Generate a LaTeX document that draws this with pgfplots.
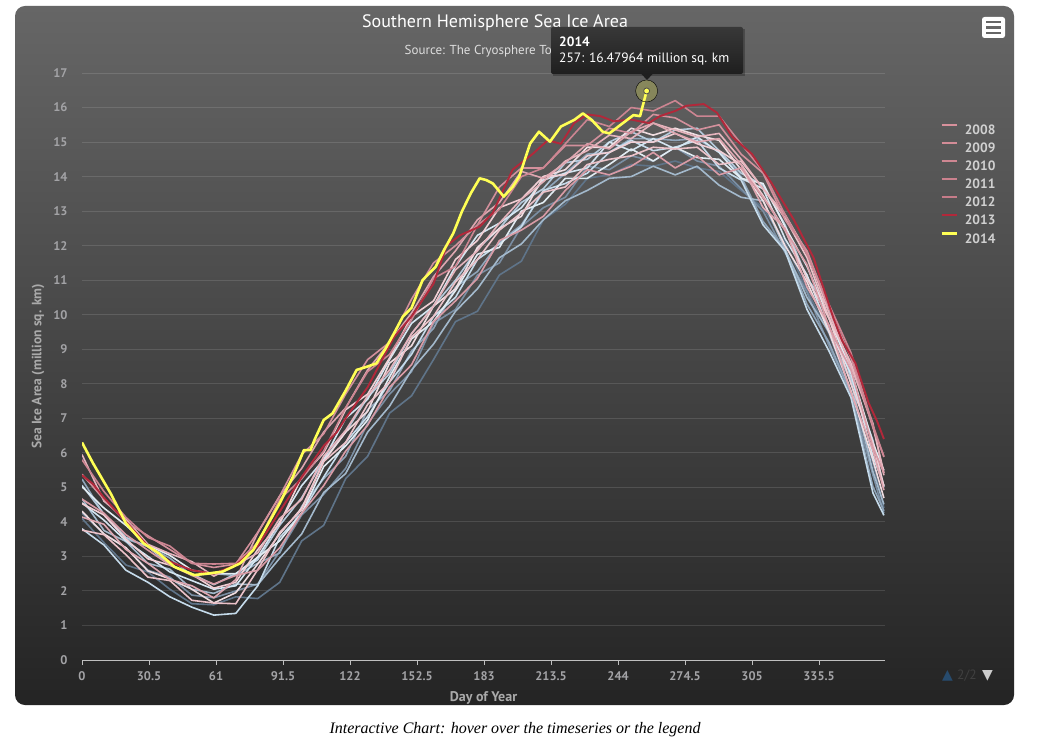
\documentclass[border=0pt]{standalone}
\usepackage{pgfplots}
\pgfplotsset{compat=1.18}
\usepackage{pgfplotstable}
\usepackage{fontspec}
\setmainfont{PT Sans}
\newfontfamily\capfont{Liberation Serif}
\newfontfamily\symfont{DejaVu Sans}
\definecolor{bgtop}{HTML}{666666}
\definecolor{bgbot}{HTML}{242424}
\definecolor{labc}{HTML}{A3A3A6}
\definecolor{titc}{HTML}{AAAAAA}
\definecolor{legc}{HTML}{D0D0D0}
\definecolor{axc}{HTML}{C0C0C0}
\definecolor{navc}{HTML}{274B6D}
\definecolor{c1}{HTML}{7A8EA3}
\definecolor{c2}{HTML}{5F7489}
\definecolor{c3}{HTML}{8FA5BA}
\definecolor{c4}{HTML}{A3B9CC}
\definecolor{c5}{HTML}{B4CADC}
\definecolor{c6}{HTML}{C5DBEB}
\definecolor{c7}{HTML}{D4E6F2}
\definecolor{c8}{HTML}{E2ECF3}
\definecolor{c9}{HTML}{F0DDE1}
\definecolor{c10}{HTML}{F1CFD5}
\definecolor{c11}{HTML}{ECC2C9}
\definecolor{c12}{HTML}{E6B4BD}
\definecolor{c13}{HTML}{DFA7B1}
\definecolor{c14}{HTML}{D99BA6}
\definecolor{c15}{HTML}{D3909C}
\definecolor{c16}{HTML}{CD8592}
\definecolor{y08}{HTML}{D8919C}
\definecolor{y09}{HTML}{D38C97}
\definecolor{y10}{HTML}{CF8792}
\definecolor{y11}{HTML}{CB828E}
\definecolor{y12}{HTML}{C67C89}
\definecolor{y13}{HTML}{B2283A}
\definecolor{y14}{HTML}{FFFF55}

\pgfplotstableread{
d   s1    s2    s3    s4    s5    s6    s7    s8    s9    s10   s11   s12   s13   s14   s15   s16
0   4.26  4.10  5.24  4.67  5.06  3.80  4.55  5.02  4.31  4.53  3.76  5.95  4.14  4.66  5.38  5.80
10  3.65  3.40  4.20  3.75  4.23  3.33  4.05  4.40  3.65  4.20  3.63  4.60  3.93  4.25  4.65  4.88
20  3.25  2.75  3.50  3.43  3.55  2.60  3.45  3.90  3.25  3.50  3.05  4.08  3.20  3.63  4.00  4.13
30  2.60  2.55  3.30  2.80  3.28  2.25  3.00  3.33  2.58  2.93  2.40  3.35  2.80  3.18  3.60  3.55
40  2.40  2.05  2.95  2.63  2.75  1.83  2.55  3.03  2.35  2.75  2.30  3.08  2.33  2.75  3.20  3.30
50  1.88  1.63  2.45  2.05  2.50  1.53  2.30  2.60  2.05  2.48  1.73  2.85  2.15  2.45  2.80  2.80
60  1.80  1.60  2.50  1.93  2.18  1.30  2.05  2.50  1.65  2.08  1.65  2.43  1.80  2.20  2.68  2.78
70  2.00  1.83  2.45  2.20  2.50  1.35  2.15  2.50  1.95  2.25  1.63  2.75  2.33  2.45  2.78  2.80
80  2.20  1.78  2.80  2.18  2.90  2.15  2.98  2.98  2.78  3.20  2.62  3.10  3.68  2.60  3.70  3.40
90  3.15  2.25  3.10  2.95  3.90  3.55  4.00  3.45  3.65  3.95  3.70  4.10  4.75  3.25  4.75  4.65
100 4.20  3.45  4.45  3.65  4.70  4.25  5.05  4.25  4.40  5.30  4.35  4.65  5.55  4.25  5.95  5.25
110 4.80  3.90  5.25  4.85  5.80  5.30  5.80  5.60  5.75  6.00  5.75  5.90  6.60  5.05  6.55  6.05
120 5.55  5.25  5.90  5.40  6.60  6.30  7.00  6.20  6.60  7.25  6.30  6.65  7.30  6.05  7.70  7.30
130 6.85  5.90  7.25  6.60  7.60  7.05  7.55  6.95  7.20  7.70  7.40  7.65  8.40  6.80  8.70  8.35
140 7.70  7.15  7.80  7.35  8.30  8.05  8.70  8.20  8.60  8.75  8.05  8.40  9.20  7.90  9.20  8.85
150 8.35  7.65  8.95  8.40  9.45  8.85  9.75  9.30  9.10  9.95  9.35  9.45  10.05 8.55  10.45 9.85
160 9.75  8.70  9.60  9.15  10.25 9.95  10.25 9.80  10.25 10.40 9.95  10.25 11.10 9.80  11.50 11.05
170 10.15 9.80  10.80 10.10 11.00 10.50 11.40 10.70 10.75 11.60 10.95 11.30 11.85 10.40 12.00 11.40
180 11.15 10.10 11.25 10.75 11.90 11.60 12.30 11.75 11.95 12.15 11.60 11.85 12.75 11.05 12.60 12.60
190 11.50 11.15 12.10 11.65 12.50 12.05 12.65 11.95 12.50 13.10 12.45 12.65 13.25 12.15 13.70 13.05
200 12.55 11.55 12.60 12.05 13.25 12.55 13.10 13.00 12.85 13.35 12.95 13.35 14.15 12.45 14.25 14.00
210 13.10 12.75 13.55 12.75 13.65 13.60 13.90 13.25 14.00 14.00 13.55 13.85 13.95 12.85 14.25 14.25
220 13.40 13.20 14.10 13.30 14.40 13.80 14.10 13.95 14.20 14.05 13.70 14.45 14.40 13.60 14.90 14.95
230 14.30 13.95 14.65 13.60 14.50 14.10 14.25 13.95 14.85 14.60 14.35 14.75 14.95 14.20 14.90 15.65
240 14.20 14.05 14.70 13.95 15.00 14.70 15.00 14.35 14.85 14.70 14.50 15.20 14.80 14.05 15.40 15.45
250 14.60 14.35 15.10 14.00 15.30 15.05 14.75 14.80 15.40 15.00 14.60 15.10 15.30 14.30 15.25 16.00
260 14.45 14.30 15.10 14.30 15.00 14.75 15.10 14.45 15.20 15.00 14.85 15.55 15.55 14.70 15.80 15.90
270 14.85 14.45 15.05 14.05 15.35 14.85 14.80 14.85 15.40 15.25 14.80 15.35 15.25 14.25 15.70 16.20
280 14.45 14.25 15.10 14.30 15.40 15.05 15.15 14.55 15.20 14.95 14.85 15.15 15.00 14.60 15.35 15.75
290 14.30 14.15 14.70 13.75 14.75 14.25 14.70 14.50 15.05 14.75 14.35 15.25 15.10 14.05 15.50 15.75
300 13.65 13.60 14.00 13.40 14.10 13.90 13.95 13.95 14.20 14.35 14.45 14.50 14.35 14.25 14.65 14.95
310 13.00 13.10 12.70 13.30 13.75 12.60 13.65 13.80 13.30 13.45 13.65 13.65 13.10 13.40 14.10 14.15
320 11.80 12.10 11.90 11.90 12.60 11.85 12.20 12.55 12.00 12.45 12.80 12.90 12.50 12.45 12.75 12.90
330 10.65 10.70 10.30 10.50 11.05 10.15 11.15 11.40 10.95 11.05 11.65 11.80 10.80 11.45 11.85 11.75
340 9.10  9.45  9.20  9.50  10.20 8.95  9.55  9.90  9.50  9.90  9.90  10.05 9.70  9.65  10.20 10.30
350 7.70  7.70  7.70  8.05  8.15  7.60  8.30  8.40  7.80  8.00  8.60  8.50  7.75  8.40  8.75  8.90
360 5.35  5.70  5.02  5.46  6.36  4.84  5.90  6.29  5.79  6.28  6.77  6.85  6.07  6.16  6.73  6.80
365 4.25  4.40  4.32  4.51  5.01  4.19  5.05  5.49  4.69  5.03  5.42  5.35  4.92  5.41  5.88  5.90
}\bgtab

\pgfplotstableread{
d v
0 5.35
5 5.10
10 4.70
20 4.00
30 3.30
40 2.85
50 2.60
60 2.50
70 2.75
80 3.30
90 4.30
100 5.30
110 6.20
116 6.60
120 7.00
130 7.90
142 9.35
150 9.95
160 10.90
166 12.00
172 12.30
181 12.55
187 12.95
196 14.20
205 14.65
212 15.05
218 14.95
224 15.55
230 15.80
236 15.75
242 15.60
250 15.65
258 15.55
263 15.75
270 15.90
275 16.05
283 16.10
289 15.85
296 15.15
305 14.65
314 13.80
324 12.75
333 11.65
342 9.90
346 9.25
352 8.60
358 7.45
362 6.90
365 6.40
}\tabA

\pgfplotstableread{
d v
0 6.30
5 5.70
13 4.83
20 3.96
28 3.38
35 3.09
42 2.70
51 2.46
58 2.51
64 2.56
72 2.80
78 3.19
84 3.86
90 4.54
96 5.31
101 6.08
104 6.08
106 6.40
110 6.95
114 7.14
120 7.80
125 8.40
130 8.50
134 8.59
138 9.00
142 9.46
146 9.94
150 10.20
155 11.00
161 11.39
165 11.90
169 12.36
173 13.00
177 13.52
181 13.95
184 13.90
187 13.80
192 13.42
196 13.70
199 14.00
204 14.96
208 15.30
213 15.01
218 15.45
224 15.64
228 15.83
232 15.64
237 15.30
240 15.25
246 15.54
251 15.78
254 15.75
257 16.48
}\tabB

\begin{document}
\begin{tikzpicture}[x=1pt,y=1pt]
\fill[white] (0,0) rectangle (1048,748);
\shade[top color=bgtop, bottom color=bgbot, rounded corners=10pt] (15,43) rectangle (1014,742);
\begin{axis}[
  at={(82pt,88pt)}, anchor=south west, scale only axis,
  width=803pt, height=587pt,
  xmin=0, xmax=365.5, ymin=0, ymax=17,
  axis line style={draw=none},
  xtick={0,30.5,61,91.5,122,152.5,183,213.5,244,274.5,305,335.5},
  xticklabels={0,30.5,61,91.5,122,152.5,183,213.5,244,274.5,305,335.5},
  ytick={0,1,...,17},
  xtick pos=left, ytick pos=left,
  tick align=outside, major tick length=5pt,
  xtick style={draw=axc, line width=1pt},
  ytick style={draw=none},
  ymajorgrids,
  major grid style={draw=white, draw opacity=0.12, line width=1pt},
  /pgf/number format/assume math mode=true,
  xticklabel style={font=\bfseries\fontsize{12.5}{14}\selectfont, text=labc, yshift=-3pt},
  yticklabel style={font=\bfseries\fontsize{12.5}{14}\selectfont, text=labc, xshift=-6pt},
  xlabel={Day of Year},
  ylabel={Sea Ice Area (million sq. km)},
  xlabel style={font=\bfseries\fontsize{14}{16}\selectfont, text=titc, at={(axis description cs:0.5,-0.0647)}, anchor=center},
  ylabel style={font=\bfseries\fontsize{13.5}{16}\selectfont, text=titc, at={(axis description cs:-0.0548,0.5)}, anchor=center},
  legend style={at={(axis description cs:1,1)}, anchor=north west, xshift=55pt, yshift=-51pt,
    draw=none, fill=none, inner sep=0pt, row sep=7.8pt, column sep=7pt,
    font=\bfseries\fontsize{13.5}{15}\selectfont, text=legc,
    nodes={inner sep=0pt, text height=9.5pt, text depth=0pt}},
  legend cell align=left,
  legend image code/.code={\draw[#1] (0pt,4.5pt) -- (15pt,4.5pt);},
  every axis plot/.append style={line join=round},
  clip mode=individual,
]
\draw[axc, line width=1pt] (axis cs:0,0) -- (axis cs:365.5,0);
\addplot[forget plot, c2, line width=1.6pt] table[x=d,y=s2]{\bgtab};
\addplot[forget plot, c1, line width=1.6pt] table[x=d,y=s1]{\bgtab};
\addplot[forget plot, c3, line width=1.6pt] table[x=d,y=s3]{\bgtab};
\addplot[forget plot, c4, line width=1.6pt] table[x=d,y=s4]{\bgtab};
\addplot[forget plot, c5, line width=1.6pt] table[x=d,y=s5]{\bgtab};
\addplot[forget plot, c6, line width=1.6pt] table[x=d,y=s6]{\bgtab};
\addplot[forget plot, c7, line width=1.6pt] table[x=d,y=s7]{\bgtab};
\addplot[forget plot, c8, line width=1.6pt] table[x=d,y=s8]{\bgtab};
\addplot[forget plot, c9, line width=1.6pt] table[x=d,y=s9]{\bgtab};
\addplot[forget plot, c10, line width=1.6pt] table[x=d,y=s10]{\bgtab};
\addplot[forget plot, c11, line width=1.6pt] table[x=d,y=s11]{\bgtab};
\addplot[forget plot, c12, line width=1.6pt] table[x=d,y=s12]{\bgtab};
\addplot[forget plot, c13, line width=1.6pt] table[x=d,y=s13]{\bgtab};
\addplot[forget plot, c14, line width=1.6pt] table[x=d,y=s14]{\bgtab};
\addplot[forget plot, c15, line width=1.6pt] table[x=d,y=s15]{\bgtab};
\addplot[forget plot, c16, line width=1.6pt] table[x=d,y=s16]{\bgtab};
\addlegendimage{y08, line width=2pt}\addlegendentry{2008}
\addlegendimage{y09, line width=2pt}\addlegendentry{2009}
\addlegendimage{y10, line width=2pt}\addlegendentry{2010}
\addlegendimage{y11, line width=2pt}\addlegendentry{2011}
\addlegendimage{y12, line width=2pt}\addlegendentry{2012}
\addplot[y13, line width=1.9pt] table[x=d,y=v]{\tabA};
\addlegendentry{2013}
\addplot[y14, line width=2.6pt] table[x=d,y=v]{\tabB};
\addlegendentry{2014}
\addplot[forget plot, only marks, mark=*, mark size=11pt, mark options={fill=y14, draw=none, fill opacity=0.25}] coordinates {(257,16.48)};
\addplot[forget plot, only marks, mark=*, mark size=3pt, mark options={fill=y14, draw=black!70, line width=0.8pt}] coordinates {(257,16.48)};
\end{axis}
% title and subtitle
\node[text=white, font=\fontsize{18}{21}\selectfont] at (495,725) {Southern Hemisphere Sea Ice Area};
\node[text=white!87!black, font=\fontsize{13}{15}\selectfont] at (488,697) {Source: The Cryosphere Today};
% tooltip
\fill[black, opacity=0.25] (553,672) rectangle (745,719);
\shade[top color=black!78, bottom color=black!88, rounded corners=2pt] (551,674) rectangle (743,721);
\fill[black!88] (641,674.5) -- (653,674.5) -- (647,668) -- cycle;
\node[anchor=base west, text=white, font=\bfseries\fontsize{13.5}{15}\selectfont, inner sep=0pt] at (559,701) {2014};
\node[anchor=base west, text=white, font=\fontsize{13.5}{15}\selectfont, inner sep=0pt] at (559,685) {257: 16.47964 million sq. km};
% menu button
\fill[white, rounded corners=2.5pt] (982,710) rectangle (1005,731);
\foreach \yy in {726,720.5,715} \draw[black!60, line width=2.4pt] (986,\yy) -- (1001,\yy);
% legend navigation
\node[anchor=west, inner sep=0pt, font=\symfont\fontsize{14}{16}\selectfont, text=navc] at (942,72) {▲};
\node[anchor=west, inner sep=0pt, font=\fontsize{13.5}{15}\selectfont, text=black!75] at (957,72.5) {2/2};
\node[anchor=west, inner sep=0pt, font=\symfont\fontsize{14}{16}\selectfont, text=black!20] at (982,72) {▼};
% caption
\node[font=\capfont\itshape\fontsize{16}{18}\selectfont, text=black] at (515,18) {Interactive Chart: hover over the timeseries or the legend};
\end{tikzpicture}
\end{document}
